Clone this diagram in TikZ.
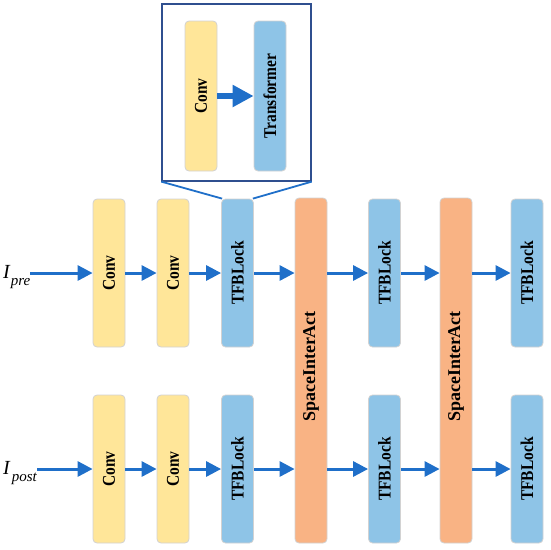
\documentclass[tikz,border=0pt]{standalone}
\usepackage{fontspec}
\setmainfont{Liberation Serif}
\usetikzlibrary{arrows.meta}
\definecolor{convfill}{HTML}{FFE699}
\definecolor{tfbfill}{HTML}{8EC4E7}
\definecolor{siafill}{HTML}{F9B384}
\definecolor{boxline}{HTML}{D2D2D2}
\definecolor{arrblue}{HTML}{1F6FC9}
\definecolor{navy}{HTML}{2F4F8F}
\newcommand{\vlabel}[1]{\rotatebox{90}{\scalebox{0.86}[1]{#1}}}
\begin{document}
\begin{tikzpicture}[x=1pt,y=-1pt,
  blk/.style={draw=boxline, line width=0.8pt, rounded corners=4pt, minimum width=32pt, inner sep=0pt,
    font=\fontsize{18}{18}\selectfont\bfseries, text=black},
  convbox/.style={blk, fill=convfill, minimum height=148pt},
  tfbbox/.style={blk, fill=tfbfill, minimum height=148pt},
  siabox/.style={blk, fill=siafill, minimum height=345pt},
  arr/.style={draw=arrblue, line width=3pt, -{Triangle[length=15pt,width=15pt]}},
  bigarr/.style={draw=arrblue, line width=5.5pt, -{Triangle[length=21pt,width=21pt]}},
  zoomline/.style={draw=arrblue, line width=1.8pt},
  ilabel/.style={inner sep=0pt, anchor=base west}
]
\useasboundingbox (0,0) rectangle (550,550);
% inset
\node[draw=navy, line width=1.3pt, minimum width=149pt, minimum height=177pt, inner sep=0pt] (inset) at (236.5,92.5) {};
\node[convbox, minimum height=150pt] (iconv) at (201,96) {\vlabel{Conv}};
\node[tfbbox, minimum height=150pt] (itrans) at (270,96) {\vlabel{Transformer}};
\draw[bigarr] (iconv.east) -- (itrans.west);
% top row
\node[convbox] (c1) at (109,273) {\vlabel{Conv}};
\node[convbox] (c2) at (173,273) {\vlabel{Conv}};
\node[tfbbox] (t1) at (237.5,273) {\vlabel{TFBLock}};
\node[siabox] (s1) at (311,370.5) {\raisebox{8pt}{\rotatebox{90}{SpaceInterAct}}};
\node[tfbbox] (t2) at (384.5,273) {\vlabel{TFBLock}};
\node[siabox] (s2) at (456,370.5) {\raisebox{8pt}{\rotatebox{90}{SpaceInterAct}}};
\node[tfbbox] (t3) at (527,273) {\vlabel{TFBLock}};
% bottom row
\node[convbox] (d1) at (109,469) {\vlabel{Conv}};
\node[convbox] (d2) at (173,469) {\vlabel{Conv}};
\node[tfbbox] (u1) at (237.5,469) {\vlabel{TFBLock}};
\node[tfbbox] (u2) at (384.5,469) {\vlabel{TFBLock}};
\node[tfbbox] (u3) at (527,469) {\vlabel{TFBLock}};
% labels
\node[ilabel] (ipre) at (3,278) {\fontsize{20}{20}\selectfont\itshape I\kern1pt\raisebox{-7pt}{\fontsize{15}{15}\selectfont pre}};
\node[ilabel] (ipost) at (3,474) {\fontsize{20}{20}\selectfont\itshape I\kern2pt\raisebox{-7pt}{\fontsize{15}{15}\selectfont post}};
% zoom lines
\draw[zoomline] (inset.south west) -- ([xshift=1pt]t1.north west);
\draw[zoomline] (inset.south east) -- ([xshift=-1pt]t1.north east);
% arrows top
\draw[arr] (ipre.east |- c1.west) -- (c1.west);
\draw[arr] (c1.east) -- (c2.west);
\draw[arr] (c2.east) -- (t1.west);
\draw[arr] (t1.east) -- (t1.east -| s1.west);
\draw[arr] (t2.west -| s1.east) -- (t2.west);
\draw[arr] (t2.east) -- (t2.east -| s2.west);
\draw[arr] (t3.west -| s2.east) -- (t3.west);
% arrows bottom
\draw[arr] (ipost.east |- d1.west) -- (d1.west);
\draw[arr] (d1.east) -- (d2.west);
\draw[arr] (d2.east) -- (u1.west);
\draw[arr] (u1.east) -- (u1.east -| s1.west);
\draw[arr] (u2.west -| s1.east) -- (u2.west);
\draw[arr] (u2.east) -- (u2.east -| s2.west);
\draw[arr] (u3.west -| s2.east) -- (u3.west);
\end{tikzpicture}
\end{document}
